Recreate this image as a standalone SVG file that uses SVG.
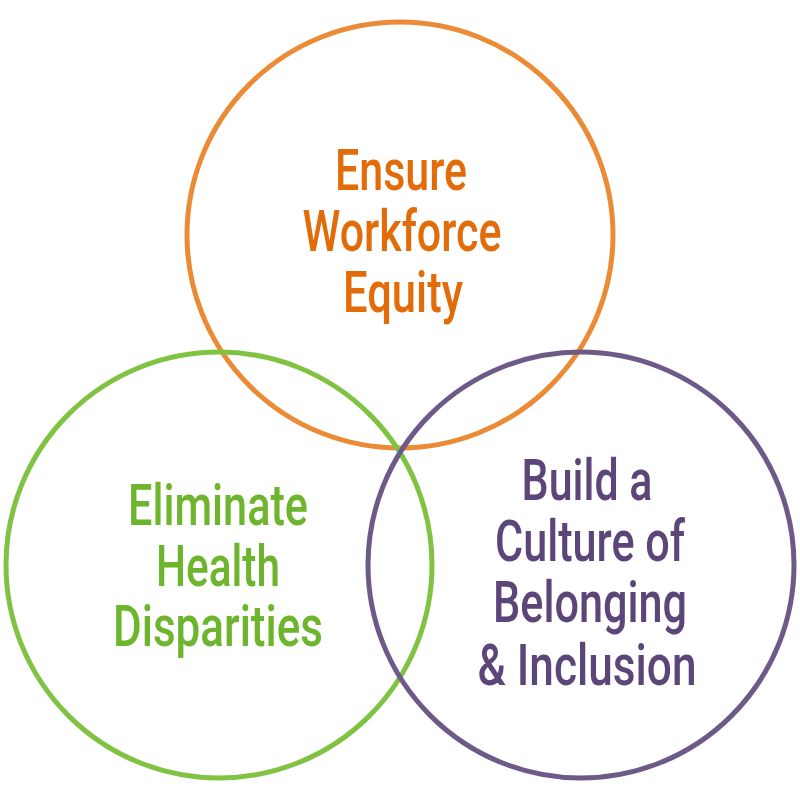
<svg xmlns="http://www.w3.org/2000/svg" width="800" height="800" viewBox="0 0 800 800">
<style>
circle{fill:none;stroke-width:5}
text{font-family:Roboto,"Liberation Sans",sans-serif;font-weight:500;font-size:58px;text-anchor:middle}
.o{fill:#E36C0A}.g{fill:#6DB52D}.p{fill:#5C4679}
</style>
<rect width="800" height="800" fill="#fff"/>
<g id="workforce"><circle cx="400" cy="235" r="213" stroke="#EC8B35"/>
<text class="o" x="401" y="190" textLength="132" lengthAdjust="spacingAndGlyphs">Ensure</text>
<text class="o" x="402" y="251" textLength="199" lengthAdjust="spacingAndGlyphs">Workforce</text>
<text class="o" x="403" y="312" textLength="120" lengthAdjust="spacingAndGlyphs">Equity</text></g>
<g id="health"><circle cx="219" cy="565" r="213" stroke="#80C342"/>
<text class="g" x="218" y="525" textLength="180" lengthAdjust="spacingAndGlyphs">Eliminate</text>
<text class="g" x="218" y="586" textLength="124" lengthAdjust="spacingAndGlyphs">Health</text>
<text class="g" x="218" y="646" textLength="210" lengthAdjust="spacingAndGlyphs">Disparities</text></g>
<g id="belonging"><circle cx="581" cy="565" r="213" stroke="#6E5A88"/>
<text class="p" x="587" y="500" textLength="131" lengthAdjust="spacingAndGlyphs">Build a</text>
<text class="p" x="590" y="561" textLength="190" lengthAdjust="spacingAndGlyphs">Culture of</text>
<text class="p" x="590" y="622" textLength="194" lengthAdjust="spacingAndGlyphs">Belonging</text>
<text class="p" x="587" y="685" textLength="219" lengthAdjust="spacingAndGlyphs">&amp; Inclusion</text></g>
<g id="connectors"/>
</svg>
